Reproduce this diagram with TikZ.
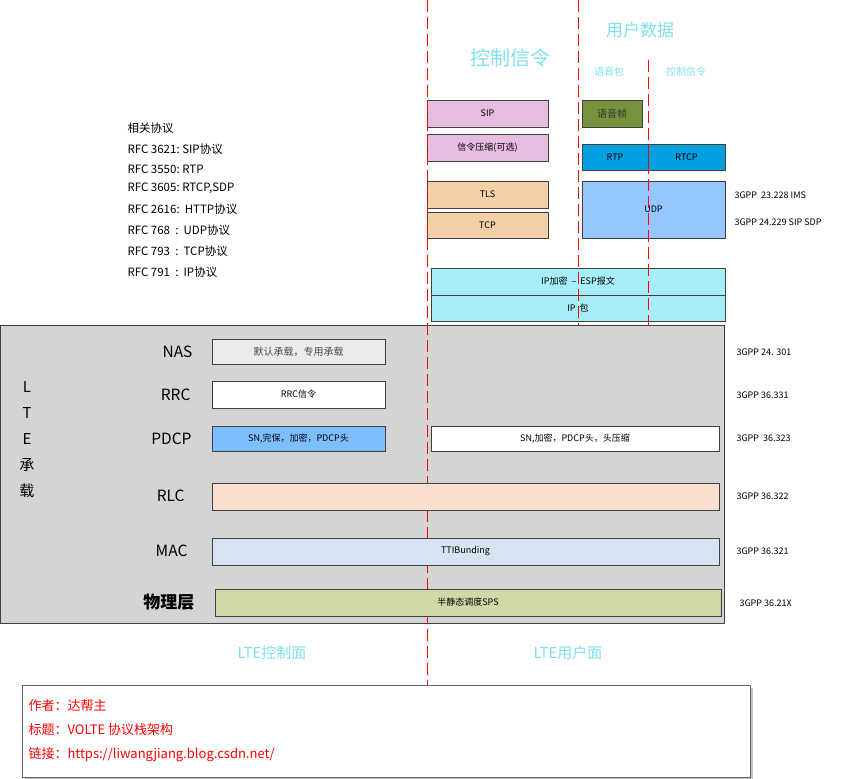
\documentclass[tikz,border=0pt]{standalone}
\usepackage{fontspec}
\setmainfont{Noto Sans CJK SC}
\definecolor{pk}{HTML}{E6BCDF}
\definecolor{pe}{HTML}{F5CFA8}
\definecolor{ol}{HTML}{77933C}
\definecolor{bl}{HTML}{00A0E0}
\definecolor{ud}{HTML}{96C6FF}
\definecolor{cy2}{HTML}{A6EFFA}
\definecolor{pd}{HTML}{7DBEFF}
\definecolor{rl}{HTML}{F8DFCF}
\definecolor{mc}{HTML}{D5E4F0}
\definecolor{ph}{HTML}{D0D8A8}
\definecolor{hd}{HTML}{7FE0F0}
\begin{document}
\begin{tikzpicture}[x=1pt,y=-1pt,
 bx/.style={draw=black!75,line width=0.8pt,font=\fontsize{9}{10}\selectfont},
 lay/.style={font=\fontsize{15.5}{17}\selectfont},
 ref/.style={anchor=west,font=\fontsize{9}{10}\selectfont},
 rfc/.style={anchor=west,font=\fontsize{11.5}{13}\selectfont},
 cy/.style={text=hd},
 dl/.style={red,dashed,dash pattern=on 12pt off 5pt,line width=0.7pt}]
\useasboundingbox (0,0) rectangle (847,779);
\path[fill=white] (0,0) rectangle (847,779);
\node[draw=black!75,fill=black!17,line width=0.8pt,inner sep=0,minimum width=724pt,minimum height=298pt] (lte) at (362,474) {};
\newcommand{\bxat}[5]{\node[bx,fill=#5,minimum width=#3pt,minimum height=#4pt,inner sep=0] at (#1,#2)}
\bxat{487.5}{113.5}{121}{27}{pk} (sip) {SIP};
\bxat{487.5}{147.5}{121}{27}{pk} (comp) {信令压缩(可选)};
\bxat{487.5}{194.5}{121}{27}{pe} (tls) {TLS};
\bxat{487.5}{225}{121}{26}{pe} (tcp) {TCP};
\bxat{612}{113.5}{60}{27}{ol} (frame) {\textcolor{black!80}{\fontsize{10}{11}\selectfont 语音帧}};
\bxat{615}{157}{66}{26}{bl} (rtp) {RTP};
\bxat{686.5}{157}{77}{26}{bl} (rtcp) {RTCP};
\bxat{653.5}{209.5}{143}{57}{ud} (udp) {UDP};
\bxat{578}{281.5}{294}{27}{cy2} (esp) {IP加密\ \ --\ \ ESP报文};
\bxat{578}{308}{294}{26}{cy2} (ip) {IP\ \ 包};
\coordinate (d1t) at (427,0); \coordinate (d1b) at (427,685);
\coordinate (d2t) at (578,0); \coordinate (d2b) at (578,325);
\coordinate (d3t) at (648,60); \coordinate (d3b) at (648,325);
\draw[dl] (d1t)--(d1b); \draw[dl] (d2t)--(d2b); \draw[dl] (d3t)--(d3b);
\node[cy,font=\fontsize{20}{22}\selectfont] (h1) at (510,58) {控制信令};
\node[cy,font=\fontsize{17}{19}\selectfont] (h2) at (640,30) {用户数据};
\node[cy,font=\fontsize{10}{11}\selectfont] (h3) at (609,72) {语音包};
\node[cy,font=\fontsize{10}{11}\selectfont] (h4) at (686,72) {控制信令};
\node[ref] (r1) at (731,195) {3GPP\ \ 23.228 IMS};
\node[ref] (r2) at (731,222) {3GPP 24.229 SIP SDP};
\node[rfc] (t0) at (124,128) {相关协议};
\node[rfc] (t1) at (124,149) {RFC 3621:\ SIP协议};
\node[rfc] (t2) at (124,169) {RFC 3550:\ RTP};
\node[rfc] (t3) at (124,188) {RFC 3605:\ RTCP,SDP};
\node[rfc] (t4) at (124,209) {RFC 2616:\ \ HTTP协议};
\node[rfc] (t5) at (124,230) {RFC 768\ \ :\ \ UDP协议};
\node[rfc] (t6) at (124,251) {RFC 793\ \ :\ \ TCP协议};
\node[rfc] (t7) at (124,272) {RFC 791\ \ :\ \ IP协议};
\node[font=\fontsize{15}{26}\selectfont,align=center] (ltet) at (27,440) {L\\T\\E\\承\\载};
\node[lay,anchor=east] (nas) at (196,352) {NAS};
\node[lay,anchor=east] (rrc) at (194,395) {RRC};
\node[lay,anchor=east] (pdcp) at (195,439) {PDCP};
\node[lay,anchor=east] (rlc) at (188,496) {RLC};
\node[lay,anchor=east] (mac) at (191,551) {MAC};
\node[lay,anchor=east,font=\bfseries\fontsize{17}{19}\selectfont] (phy) at (198,602) {物理层};
\bxat{298.5}{351.5}{173}{25}{black!8} (nasb) {\textcolor{black!70}{\fontsize{10}{11}\selectfont 默认承载，专用承载}};
\bxat{298.5}{394.5}{173}{27}{white} (rrcb) {RRC信令};
\bxat{298.5}{438.5}{173}{25}{pd} (pdcpb) {SN,完保，加密，PDCP头};
\bxat{575}{438.5}{288}{25}{white} (pdcpu) {SN,加密，PDCP头，头压缩};
\bxat{465.5}{496.5}{507}{27}{rl} (rlcb) {};
\bxat{465.5}{551.5}{507}{27}{mc} (macb) {TTIBunding};
\bxat{468}{602.5}{506}{27}{ph} (phyb) {半静态调度SPS};
\node[ref] (g1) at (733,352) {3GPP 24. 301};
\node[ref] (g2) at (733,395) {3GPP 36.331};
\node[ref] (g3) at (733,438) {3GPP\ \ 36.323};
\node[ref] (g4) at (733,496) {3GPP 36.322};
\node[ref] (g5) at (733,551) {3GPP 36.321};
\node[ref] (g6) at (736,603) {3GPP 36.21X};
\node[cy,font=\fontsize{15}{17}\selectfont] (cp) at (272,653) {LTE控制面};
\node[cy,font=\fontsize{15}{17}\selectfont] (up) at (568,653) {LTE用户面};
\fill[black!25] (25,688) rectangle (753,780);
\node[draw=black!60,fill=white,minimum width=728pt,minimum height=92pt,inner sep=0] (auth) at (386,731) {};
\node[anchor=west,text=red,font=\fontsize{13}{15}\selectfont] (a1) at (25,706) {作者：达帮主};
\node[anchor=west,text=red,font=\fontsize{13}{15}\selectfont] (a2) at (25,730) {标题：VOLTE 协议栈架构};
\node[anchor=west,text=red,font=\fontsize{13}{15}\selectfont] (a3) at (25,755) {链接：https://liwangjiang.blog.csdn.net/};
\end{tikzpicture}
\end{document}
